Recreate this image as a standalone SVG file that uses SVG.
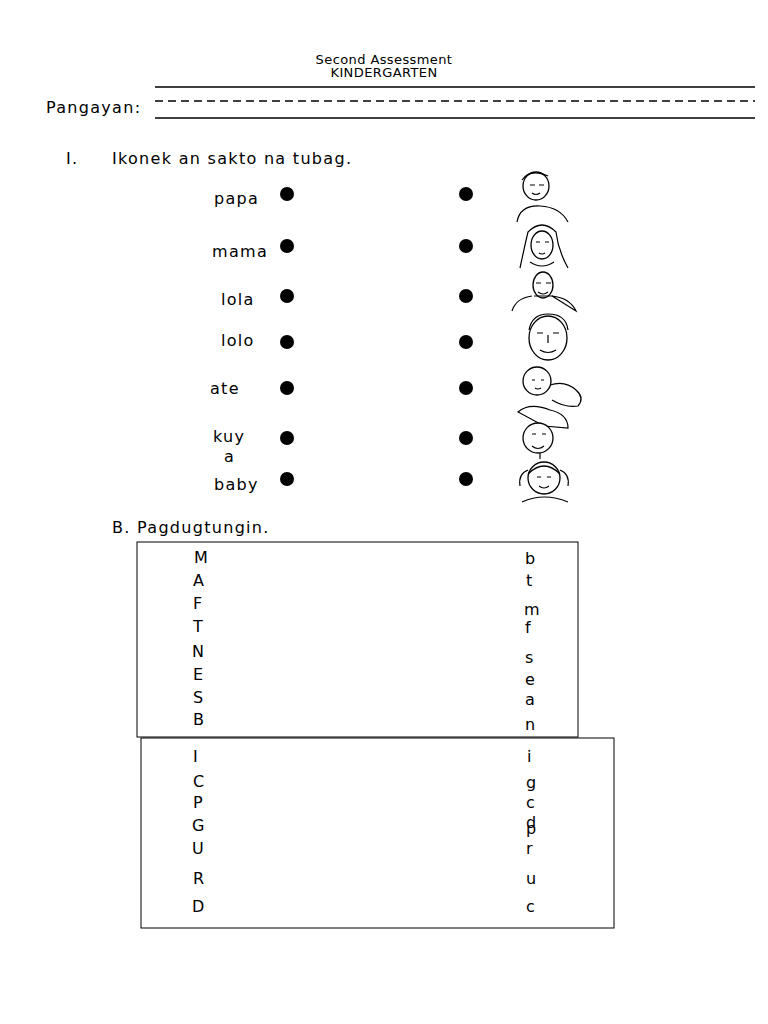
<svg xmlns="http://www.w3.org/2000/svg" width="768" height="1024" viewBox="0 0 768 1024">
<style>
text{font-family:"DejaVu Sans",Verdana,sans-serif;fill:#000}
.s{font-size:13px;letter-spacing:0.4px}.m{font-size:16px;letter-spacing:1.3px}
.d{fill:#000}
.f{fill:#fff;stroke:#000;stroke-width:1.3}
.l{fill:none;stroke:#000;stroke-width:1.2}
.b{fill:none;stroke:#000;stroke-width:1}
</style>
<rect width="768" height="1024" fill="#fff"/>
<text class="s" x="384" y="64" text-anchor="middle">Second Assessment</text>
<text class="s" x="384" y="77" text-anchor="middle">KINDERGARTEN</text>
<line x1="155" y1="87" x2="755" y2="87" stroke="#000" stroke-width="1.5"/>
<line x1="155" y1="101" x2="755" y2="101" stroke="#000" stroke-width="1.5" stroke-dasharray="8,5"/>
<line x1="155" y1="118" x2="755" y2="118" stroke="#000" stroke-width="1.5"/>
<text class="m" x="46" y="113">Pangayan:</text>
<text class="m" x="66" y="164">I.</text>
<text class="m" x="112" y="164">Ikonek an sakto na tubag.</text>
<g>
<text class="m" x="214" y="204">papa</text>
<text class="m" x="212" y="257">mama</text>
<text class="m" x="221" y="305">lola</text>
<text class="m" x="221" y="346">lolo</text>
<text class="m" x="210" y="394">ate</text>
<text class="m" x="213" y="442">kuy</text>
<text class="m" x="224" y="462">a</text>
<text class="m" x="214" y="490">baby</text>
</g>
<g>
<circle class="d" cx="287" cy="194" r="7"/><circle class="d" cx="466" cy="194" r="7"/>
<circle class="d" cx="287" cy="246" r="7"/><circle class="d" cx="466" cy="246" r="7"/>
<circle class="d" cx="287" cy="296" r="7"/><circle class="d" cx="466" cy="296" r="7"/>
<circle class="d" cx="287" cy="342" r="7"/><circle class="d" cx="466" cy="342" r="7"/>
<circle class="d" cx="287" cy="388" r="7"/><circle class="d" cx="466" cy="388" r="7"/>
<circle class="d" cx="287" cy="438" r="7"/><circle class="d" cx="466" cy="438" r="7"/>
<circle class="d" cx="287" cy="479" r="7"/><circle class="d" cx="466" cy="479" r="7"/>
</g>
<g id="pics">
<path class="l" d="M517,222 Q520,205 540,206 Q560,207 568,222 L568,222"/>
<ellipse class="f" cx="536" cy="186" rx="13" ry="14"/>
<path class="l" d="M522,180 Q530,168 548,176 M530,185 h5 M539,185 h5 M532,193 q4,3 8,0"/>
<path class="l" d="M520,268 Q526,240 528,232 Q542,218 556,232 Q558,250 568,268"/>
<ellipse class="f" cx="542" cy="245" rx="11" ry="14"/>
<path class="l" d="M536,242 h4 M545,242 h4 M539,253 q3,2 6,0 M530,262 q12,8 24,0"/>
<path class="l" d="M512,311 Q516,298 532,296 M552,296 Q570,298 576,311 Z"/>
<ellipse class="f" cx="543" cy="285" rx="10" ry="13"/>
<path class="l" d="M536,283 h5 M546,283 h5 M538,292 q5,4 10,0 M534,296 h18"/>
<ellipse class="f" cx="548" cy="338" rx="19" ry="22"/>
<path class="l" d="M529,330 Q532,314 548,314 Q566,314 568,330 M537,333 h6 M553,333 h6 M540,350 q8,5 16,0 M548,335 v8"/>
<circle class="f" cx="537" cy="381" r="14"/>
<path class="l" d="M550,385 Q565,380 576,390 Q585,398 578,406 Q565,408 552,400 M532,380 h3 M541,380 h3 M535,388 q3,2 6,0"/>
<path class="l" d="M518,412 Q530,402 550,410 Q568,414 568,428 L544,426 Z"/>
<ellipse class="f" cx="538" cy="438" rx="15" ry="15"/>
<path class="l" d="M532,434 h4 M542,434 h4 M532,446 q6,5 12,0 M540,453 v6"/>
<circle class="f" cx="544" cy="478" r="16"/>
<path class="l" d="M528,474 Q544,458 560,474 M528,470 q-10,4 -8,16 M560,470 q10,4 8,16 M537,477 h4 M547,477 h4 M539,486 q5,4 10,0 M522,502 Q544,492 568,502"/>
</g>
<text class="m" x="112" y="533">B. Pagdugtungin.</text>
<rect class="b" x="137" y="542" width="441" height="195"/>
<rect class="b" x="141" y="738" width="473" height="190"/>
<g>
<text class="m" x="194" y="563">M</text>
<text class="m" x="193" y="586">A</text>
<text class="m" x="193" y="609">F</text>
<text class="m" x="193" y="632">T</text>
<text class="m" x="192" y="657">N</text>
<text class="m" x="193" y="680">E</text>
<text class="m" x="193" y="703">S</text>
<text class="m" x="193" y="725">B</text>
<text class="m" x="525" y="564">b</text>
<text class="m" x="526" y="586">t</text>
<text class="m" x="524" y="615">m</text>
<text class="m" x="525" y="633">f</text>
<text class="m" x="525" y="663">s</text>
<text class="m" x="525" y="685">e</text>
<text class="m" x="525" y="705">a</text>
<text class="m" x="525" y="730">n</text>
<text class="m" x="193" y="762">I</text>
<text class="m" x="193" y="787">C</text>
<text class="m" x="193" y="808">P</text>
<text class="m" x="192" y="831">G</text>
<text class="m" x="192" y="854">U</text>
<text class="m" x="193" y="884">R</text>
<text class="m" x="192" y="912">D</text>
<text class="m" x="527" y="762">i</text>
<text class="m" x="526" y="788">g</text>
<text class="m" x="526" y="808">c</text>
<text class="m" x="526" y="828">d</text>
<text class="m" x="526" y="834">p</text>
<text class="m" x="526" y="854">r</text>
<text class="m" x="526" y="884">u</text>
<text class="m" x="526" y="912">c</text>
</g>
</svg>
